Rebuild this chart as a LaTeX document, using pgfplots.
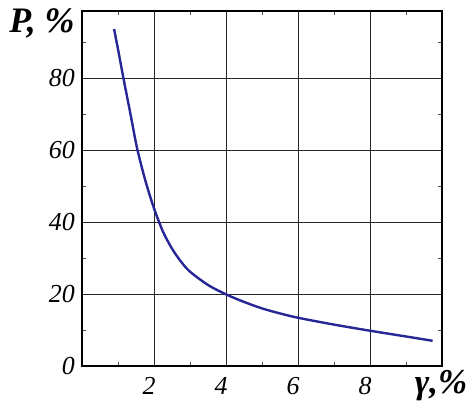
\documentclass[border=0pt]{standalone}
\usepackage{fontspec}
\setmainfont{Liberation Serif}
\usepackage{pgfplots}
\pgfplotsset{compat=1.18}
\definecolor{curveblue}{RGB}{38,38,150}
\begin{document}
\begin{tikzpicture}
\useasboundingbox (-82bp,-41bp) rectangle (392bp,366bp);
\begin{axis}[
  at={(0,0)}, anchor=south west,
  scale only axis,
  width=360bp, height=355bp,
  xmin=0, xmax=10, ymin=0, ymax=98.6,
  xtick={2,4,6,8}, ytick={0,20,40,60,80},
  minor xtick={1,3,5,7,9}, minor ytick={10,30,50,70,90},
  grid=major,
  major grid style={black!85, line width=0.9pt},
  major tick length=0pt,
  minor tick length=4bp,
  tick style={black!70, line width=0.6pt},
  tick align=inside,
  axis line style={black, line width=1.2pt},
  /pgf/number format/assume math mode=true,
  xticklabel style={font=\fontsize{26}{28}\selectfont\itshape, anchor=base, inner sep=0pt, yshift=-28bp, xshift=-5bp},
  yticklabel style={font=\fontsize{26}{28}\selectfont\itshape, anchor=east, inner sep=0pt, xshift=-7bp},
  clip=false,
]
\addplot[curveblue, line width=2.4bp, smooth] coordinates {
(0.89,93.6) (1.0,88.0) (1.15,80.0) (1.35,69.8) (1.53,60.5) (1.76,51.5)
(2.0,43.8) (2.25,37.3) (2.5,32.6) (2.75,29.0) (3.0,26.2) (3.5,22.5)
(4.0,19.9) (4.5,17.8) (5.0,16.0) (5.5,14.6) (6.0,13.4) (7.0,11.5)
(8.0,9.8) (9.0,8.2) (9.74,7.0)
};
\end{axis}
\node[anchor=base, inner sep=0pt, font=\fontsize{36}{38}\selectfont\bfseries\itshape] at (-40bp,333bp) {P, \%};
\node[anchor=base, inner sep=0pt, font=\fontsize{35}{37}\selectfont\bfseries\itshape] at (359bp,-27bp) {γ,\%};
\end{tikzpicture}
\end{document}
